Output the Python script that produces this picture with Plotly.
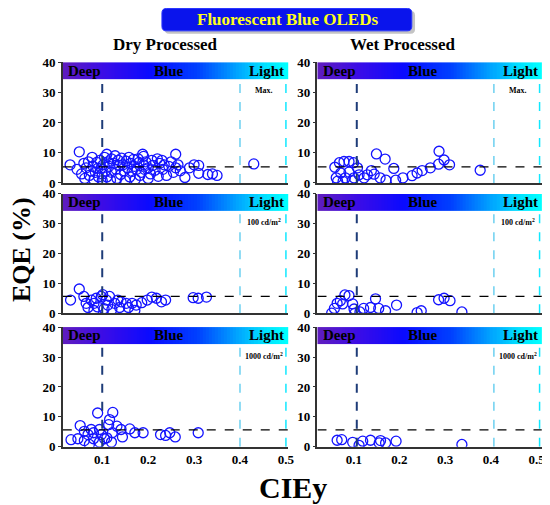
import numpy as np
import plotly.graph_objects as go
from plotly.subplots import make_subplots

# CIEy / EQE (%)
dry_max_x = [0.03, 0.045, 0.05, 0.055, 0.06, 0.062, 0.065, 0.07, 0.072, 0.075, 0.078, 0.08, 0.082, 0.085,
             0.088, 0.09, 0.092, 0.095, 0.098, 0.1, 0.1, 0.102, 0.105, 0.107, 0.11, 0.11, 0.112, 0.115,
             0.118, 0.12, 0.12, 0.125, 0.128, 0.13, 0.132, 0.135, 0.138, 0.14, 0.142, 0.145, 0.148, 0.15,
             0.152, 0.155, 0.158, 0.16, 0.162, 0.165, 0.168, 0.17, 0.172, 0.175, 0.178, 0.18, 0.182, 0.185,
             0.188, 0.19, 0.19, 0.192, 0.195, 0.2, 0.2, 0.205, 0.208, 0.21, 0.215, 0.22, 0.222, 0.225,
             0.23, 0.232, 0.235, 0.24, 0.245, 0.25, 0.255, 0.26, 0.26, 0.265, 0.27, 0.28, 0.29, 0.30,
             0.31, 0.31, 0.33, 0.34, 0.35, 0.43]
dry_max_y = [6.0, 4.5, 10.3, 3.0, 6.5, 1.5, 5.0, 7.0, 2.5, 4.0, 8.5, 5.5, 1.0, 3.5,
             6.8, 4.8, 2.0, 7.5, 5.0, 3.0, 0.8, 6.0, 8.5, 4.0, 9.5, 2.0, 7.0, 5.5,
             1.0, 8.0, 3.5, 6.5, 9.0, 4.5, 1.5, 7.5, 5.8, 2.8, 8.2, 6.0, 4.0, 0.8,
             7.2, 5.0, 8.5, 2.0, 6.5, 3.8, 7.8, 5.5, 1.2, 4.5, 8.0, 6.8, 2.5, 3.5,
             9.5, 8.8, 6.0, 4.5, 7.0, 5.0, 1.5, 3.0, 7.5, 5.8, 4.2, 8.0, 2.2, 6.5,
             7.5, 4.5, 6.0, 2.5, 5.5, 7.0, 3.5, 9.5, 5.0, 6.0, 4.0, 1.8, 5.0, 6.0,
             5.8, 3.2, 2.8, 3.0, 2.5, 6.3]

wet_max_x = [0.052, 0.062, 0.072, 0.083, 0.093, 0.055, 0.065, 0.075, 0.083, 0.094, 0.1015, 0.105,
             0.116, 0.123, 0.132, 0.138, 0.143, 0.151, 0.162, 0.164, 0.181, 0.185, 0.201, 0.221,
             0.232, 0.243, 0.261, 0.279, 0.280, 0.291, 0.303, 0.370, 0.058, 0.07, 0.09]
wet_max_y = [5.2, 6.7, 7.1, 7.1, 6.7, 1.7, 3.3, 1.7, 3.6, 1.7, 5.0, 2.7,
             1.7, 2.7, 4.1, 2.9, 9.6, 1.7, 7.9, 0.9, 4.8, 0.9, 1.7, 2.4,
             3.3, 4.1, 5.0, 6.2, 10.5, 7.6, 6.0, 4.2, 0.6, 0.5, 0.8]

dry_100_x = [0.031, 0.050, 0.060, 0.065, 0.069, 0.076, 0.082, 0.082, 0.087, 0.090, 0.098, 0.101,
             0.104, 0.109, 0.112, 0.116, 0.121, 0.127, 0.134, 0.138, 0.141, 0.152, 0.157, 0.165,
             0.171, 0.174, 0.186, 0.198, 0.208, 0.218, 0.229, 0.238, 0.298, 0.309, 0.327]
dry_100_y = [4.4, 8.1, 5.6, 3.3, 1.9, 4.4, 3.3, 0.9, 5.0, 2.1, 5.6, 6.2,
             1.5, 4.4, 2.7, 5.6, 1.2, 3.3, 4.4, 1.9, 3.8, 3.3, 1.9, 3.3,
             0.9, 2.7, 3.5, 4.4, 5.4, 5.0, 3.8, 4.4, 5.2, 5.0, 5.4]

wet_100_x = [0.045, 0.051, 0.057, 0.064, 0.069, 0.074, 0.083, 0.091, 0.094, 0.096, 0.107, 0.115,
             0.130, 0.141, 0.148, 0.163, 0.187, 0.232, 0.241, 0.279, 0.291, 0.304, 0.330]
wet_100_y = [0.0, 1.6, 3.3, 4.2, 3.1, 6.1, 5.9, 3.1, 1.4, 0.0, 0.4, 1.6,
             1.9, 4.8, 1.6, 0.8, 2.7, 0.2, 0.8, 4.5, 5.0, 4.2, 0.4]

dry_1000_x = [0.032, 0.047, 0.052, 0.061, 0.061, 0.069, 0.072, 0.076, 0.081, 0.081, 0.090, 0.094,
              0.094, 0.098, 0.105, 0.110, 0.114, 0.116, 0.120, 0.122, 0.123, 0.132, 0.141, 0.144,
              0.160, 0.171, 0.189, 0.227, 0.238, 0.247, 0.259, 0.309]
dry_1000_y = [2.4, 2.7, 7.1, 2.1, 5.2, 4.1, 0.8, 5.8, 2.7, 4.7, 11.3, 5.8,
              1.6, 4.1, 2.7, 3.0, 7.4, 9.1, 1.6, 4.7, 11.5, 6.9, 5.8, 3.3,
              6.0, 4.7, 4.7, 4.1, 3.8, 4.7, 3.3, 4.7]

wet_1000_x = [0.057, 0.067, 0.091, 0.105, 0.113, 0.130, 0.149, 0.152, 0.163, 0.186, 0.330]
wet_1000_y = [2.2, 2.4, 1.5, 0.5, 1.9, 2.2, 1.3, 2.1, 1.3, 1.9, 0.8]

# average EQE lines per panel (row order)
avg_eqe = [5.3, 5.6, 5.7]
panel_notes = ["Max.", "100 cd/m<sup>2</sup>", "1000 cd/m<sup>2</sup>"]
col_titles = ["Dry Processed", "Wet Processed"]
x_ticks = [0.1, 0.2, 0.3, 0.4, 0.5]
y_ticks = [0, 10, 20, 30, 40]

panels = [
    (1, 1, dry_max_x, dry_max_y), (1, 2, wet_max_x, wet_max_y),
    (2, 1, dry_100_x, dry_100_y), (2, 2, wet_100_x, wet_100_y),
    (3, 1, dry_1000_x, dry_1000_y), (3, 2, wet_1000_x, wet_1000_y),
]

serif = "Liberation Serif"
band_colors = [[0.0, "#5e1cc0"], [0.18, "#3a0ce8"], [0.38, "#0a0aff"],
               [0.6, "#0040ff"], [0.78, "#00a4ff"], [0.9, "#00e0ff"], [1.0, "#00ffff"]]

fig = make_subplots(rows=3, cols=2)

# page body adds an 8px offset, so the figure is a bit smaller than the window
x_dom = [[0.101, 0.517], [0.571, 0.985]]
y_dom = [[0.648, 0.891], [0.386, 0.626], [0.117, 0.358]]

band_x = np.linspace(0.0, 0.52, 80)

for r, c, xs, ys in panels:
    # gradient band at the top
    fig.add_trace(go.Heatmap(x=band_x, y=[34.3, 37.2, 40], z=[band_x, band_x],
                             colorscale=band_colors, zmin=0.02, zmax=0.5,
                             showscale=False, hoverinfo="skip"), row=r, col=c)
    fig.add_trace(go.Scatter(x=xs, y=ys, mode="markers",
                             marker=dict(symbol="circle-open", size=10,
                                         line=dict(color="#1414ff", width=1.3), color="#1414ff"),
                             showlegend=False), row=r, col=c)

    idx = (r - 1) * 2 + c
    xr = "x" if idx == 1 else f"x{idx}"
    yr = "y" if idx == 1 else f"y{idx}"
    # reference lines
    fig.add_shape(type="line", xref=xr, yref=yr, x0=0.1, x1=0.1, y0=0, y1=34.3,
                  line=dict(color="#1e3c78", width=2, dash="dash"))
    fig.add_shape(type="line", xref=xr, yref=yr, x0=0.4, x1=0.4, y0=0, y1=34.3,
                  line=dict(color="#6cd0f0", width=1.5, dash="dash"))
    fig.add_shape(type="line", xref=xr, yref=yr, x0=0.5, x1=0.5, y0=0, y1=34.3,
                  line=dict(color="#10e8ff", width=1.5, dash="dash"))
    fig.add_shape(type="line", xref=xr, yref=yr, x0=0.014, x1=0.505,
                  y0=avg_eqe[r - 1], y1=avg_eqe[r - 1],
                  line=dict(color="black", width=1.2, dash="dash"))

    for txt, xx, anc in [("Deep", 0.022, "left"), ("Blue", 0.245, "center"), ("Light", 0.5, "right")]:
        fig.add_annotation(x=xx, y=37.2, xref=xr, yref=yr, text=f"<b>{txt}</b>", showarrow=False,
                           xanchor=anc, yanchor="middle",
                           font=dict(family=serif, size=15, color="black"))
    fig.add_annotation(x=0.452, y=30.5, xref=xr, yref=yr, text=f"<b>{panel_notes[r - 1]}</b>",
                       showarrow=False, xanchor="center", yanchor="middle",
                       font=dict(family=serif, size=8, color="black"))

    fig.update_xaxes(domain=x_dom[c - 1], range=[0.014, 0.505], row=r, col=c, automargin=False,
                     showline=True, linecolor="#333333", linewidth=1.5, showgrid=False,
                     zeroline=False, tickvals=x_ticks, ticktext=[f"<b>{v}</b>" for v in x_ticks],
                     showticklabels=(r == 3), ticks="",
                     tickfont=dict(family=serif, size=13, color="black"))
    fig.update_yaxes(domain=y_dom[r - 1], range=[0, 40], row=r, col=c, automargin=False,
                     showline=True, linecolor="#333333", linewidth=1.5, showgrid=False,
                     zeroline=False, tickvals=y_ticks, ticktext=[f"<b>{v}</b>" for v in y_ticks],
                     ticks="outside", ticklen=3, tickcolor="#333333",
                     tickfont=dict(family=serif, size=13, color="black"))

# keep the last "0.5" label inside the page
fig.update_xaxes(ticklabelshift=-3, row=3, col=2)


def rounded_box(x0, x1, y0, y1, rx=0.008, ry=0.009):
    return (f"M {x0 + rx},{y0} L {x1 - rx},{y0} Q {x1},{y0} {x1},{y0 + ry} "
            f"L {x1},{y1 - ry} Q {x1},{y1} {x1 - rx},{y1} L {x0 + rx},{y1} "
            f"Q {x0},{y1} {x0},{y1 - ry} L {x0},{y0 + ry} Q {x0},{y0} {x0 + rx},{y0} Z")


# title box with a soft shadow
fig.add_shape(type="path", xref="paper", yref="paper", path=rounded_box(0.289, 0.751, 0.948, 0.994),
              fillcolor="#c4c4c4", line=dict(width=0))
fig.add_shape(type="path", xref="paper", yref="paper", path=rounded_box(0.284, 0.745, 0.954, 0.999),
              fillcolor="#0a14ec", line=dict(color="#2a36ff", width=1))
fig.add_annotation(x=0.515, y=0.977, xref="paper", yref="paper",
                   text="<b>Fluorescent Blue OLEDs</b>", showarrow=False,
                   xanchor="center", yanchor="middle",
                   font=dict(family=serif, size=17, color="#ffff1a"))

for i, t in enumerate(col_titles):
    fig.add_annotation(x=[0.290, 0.729][i], y=0.926, xref="paper", yref="paper",
                       text=f"<b>{t}</b>", showarrow=False, xanchor="center", yanchor="middle",
                       font=dict(family=serif, size=17, color="black"))

fig.add_annotation(x=0.024, y=0.513, xref="paper", yref="paper", text="<b>EQE (%)</b>",
                   textangle=-90, showarrow=False, xanchor="center", yanchor="middle",
                   font=dict(family=serif, size=26, color="black"))
fig.add_annotation(x=0.525, y=0.036, xref="paper", yref="paper", text="<b>CIEy</b>",
                   showarrow=False, xanchor="center", yanchor="middle",
                   font=dict(family=serif, size=30, color="black"))

fig.update_layout(width=542, height=497, margin=dict(l=0, r=0, t=0, b=0),
                  plot_bgcolor="white", paper_bgcolor="white", showlegend=False)

fig.write_html("out.html")
